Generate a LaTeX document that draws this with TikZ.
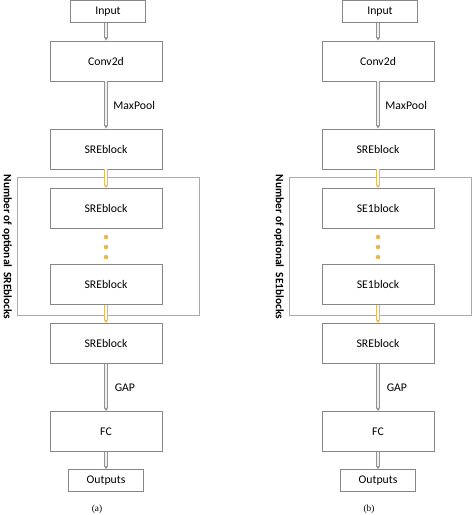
\documentclass[tikz,border=0pt]{standalone}
\usepackage{fontspec}
\setmainfont{Carlito}
\newfontfamily\capfont{Liberation Serif}
\usetikzlibrary{arrows.meta}

\definecolor{boxgray}{RGB}{135,135,135}
\definecolor{optblue}{RGB}{140,178,215}
\definecolor{gold}{RGB}{226,190,90}

\begin{document}
\begin{tikzpicture}[x=0.75pt,y=-0.75pt]
   \tikzstyle{block}=[draw=boxgray, line width=0.6pt, minimum width=84pt, minimum height=30pt, inner sep=0pt, font=\fontsize{8.8}{10}\selectfont]
   \tikzstyle{endbox}=[block, minimum width=56pt, minimum height=16pt]
   \tikzstyle{optbox}=[draw=optblue, line width=0.6pt, minimum width=137pt, minimum height=103.5pt, inner sep=0pt]
   \tikzstyle{flow}=[draw=boxgray!90, double=gray!12, double distance=1.5pt, line width=0.5pt, -{Latex[length=2.5pt,width=3.5pt]}]
   \tikzstyle{goldflow}=[flow, draw=gold, double=gold!10, line width=0.4pt]
   \tikzstyle{dot}=[circle, fill=gold!90!orange, inner sep=0pt, minimum size=3.4pt]
   \tikzstyle{note}=[font=\fontsize{8.8}{10}\selectfont, anchor=west]

\useasboundingbox (0,0) rectangle (474,515);

\foreach \dx/\blk/\tag in {0/SRE/a, 272/SE1/b}{
    \node[optbox] (opt\tag) at (108.5+\dx,246) {};
    \node[rotate=-90, font=\fontsize{8.5}{10}\selectfont\bfseries] (lab\tag) at (7+\dx,247) {Number of optional \ \blk blocks};

    \node[endbox] (in\tag)   at (108+\dx,11.5) {Input};
    \node[block]  (conv\tag) at (106+\dx,61)   {Conv2d};
    \node[block]  (sa\tag)   at (106+\dx,149)  {SREblock};
    \node[block]  (sb\tag)   at (106+\dx,208.5){\blk block};
    \node[block]  (sc\tag)   at (106+\dx,284.5){\blk block};
    \node[block]  (sd\tag)   at (106+\dx,343.5){SREblock};
    \node[block]  (fc\tag)   at (106+\dx,431.5){FC};
    \node[endbox] (out\tag)  at (106+\dx,480.5){Outputs};

    \foreach \y/\k in {237/1, 247/2, 257/3}
        \node[dot] (dot\k\tag) at (106+\dx,\y) {};

    % connectors
    \draw[flow] (in\tag.south -| conv\tag) -- (conv\tag);
    \draw[flow] (conv\tag) -- node[note, xshift=2pt] (mp\tag) {MaxPool} (sa\tag);
    \draw[goldflow] (sa\tag) -- (sb\tag);
    \draw[goldflow] (sc\tag) -- (sd\tag);
    \draw[flow] (sd\tag) -- node[note, xshift=3pt] (gap\tag) {GAP} (fc\tag);
    \draw[flow] (fc\tag) -- (out\tag);

    \node[font=\capfont\fontsize{7}{8}\selectfont] (cap\tag) at (97+\dx,509) {(\tag)};
}

\end{tikzpicture}
\end{document}
